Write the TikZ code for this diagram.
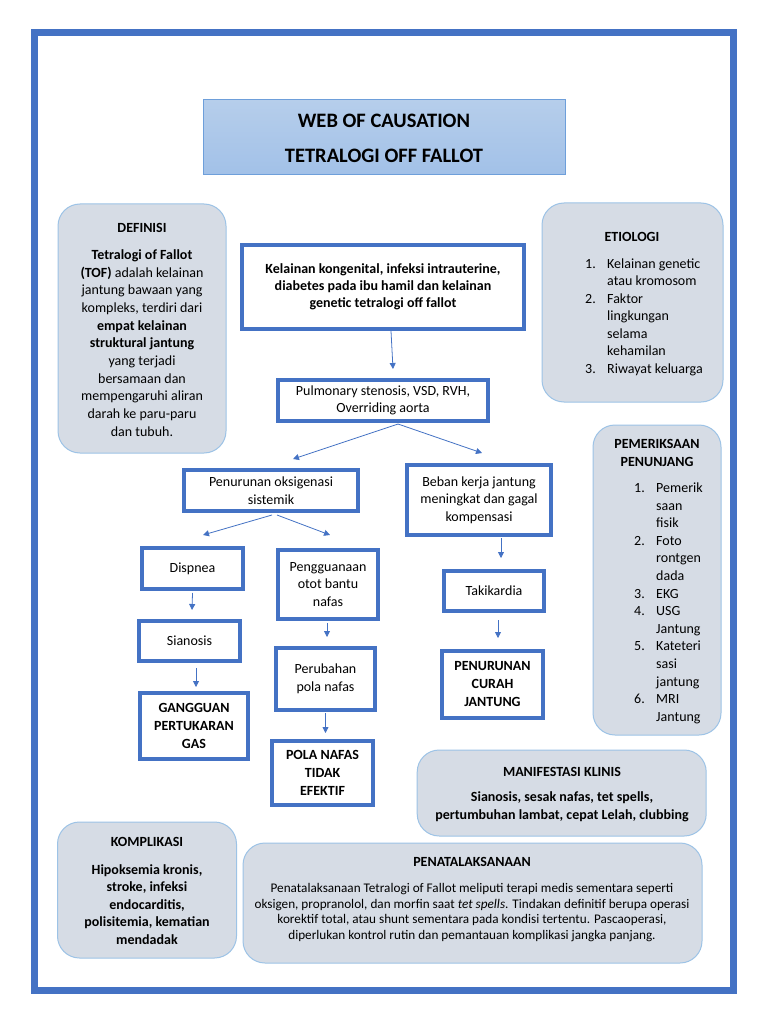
\documentclass[tikz,border=0pt]{standalone}
\usepackage{fontspec}
\setmainfont{Carlito}
\usetikzlibrary{arrows.meta}
\definecolor{wblue}{HTML}{4472C4}
\definecolor{lblue}{HTML}{9DC3E6}
\definecolor{softg}{HTML}{D6DCE5}
\definecolor{ttop}{HTML}{B6CEEB}
\definecolor{tbot}{HTML}{A2C1E8}
\definecolor{tedge}{HTML}{6E9FDA}
\newcommand\fsz[2]{\fontsize{#1}{#2}\selectfont}
\begin{document}
\begin{tikzpicture}[x=1pt,y=-1pt,
  flow/.style={draw=wblue, line width=4pt, fill=white, align=center, inner sep=0pt, font=\fsz{14}{17.5}},
  soft/.style={draw=lblue, line width=1pt, fill=softg, rounded corners=22pt, inner sep=0pt},
  arr/.style={draw=wblue, line width=0.8pt, -{Triangle[length=6pt,width=6pt]}},
  head/.style={font=\fsz{14}{18}\bfseries, align=center, inner sep=0pt},
  body/.style={font=\fsz{14}{17.6}, align=center, inner sep=0pt}]
\useasboundingbox (0,0) rectangle (768,1024);
\fill[white] (0,0) rectangle (768,1024);
\draw[wblue, line width=7pt] (34.5,32.5) rectangle (733,990.5);

% title
\node[draw=tedge, line width=1pt, top color=ttop, bottom color=tbot, minimum width=362, minimum height=75, inner sep=0pt] (title) at (384,137) {};
\node[font=\fsz{20.5}{35}\bfseries, align=center, inner sep=0pt] (titletext) at (384,138.5) {WEB OF CAUSATION\\TETRALOGI OFF FALLOT};

% soft boxes
\node[soft, minimum width=168, minimum height=249] (def) at (142,328.5) {};
\node[head] (defh) at (142,228) {DEFINISI};
\node[body, font=\fsz{14}{17.7}] (deft) at (142,343) {\textbf{Tetralogi of Fallot}\\\textbf{(TOF)} adalah kelainan\\jantung bawaan yang\\kompleks, terdiri dari\\\textbf{empat kelainan}\\\textbf{struktural jantung}\\yang terjadi\\bersamaan dan\\mempengaruhi aliran\\darah ke paru-paru\\dan tubuh.};

\node[soft, minimum width=181, minimum height=199] (eti) at (632.5,302.5) {};
\node[head] (etih) at (632,237) {ETIOLOGI};
\node[anchor=north west, inner sep=0pt, font=\fsz{14}{17.5}] (etil) at (585,256) {\begin{tabular}{@{}p{22pt}@{}l@{}}1.&Kelainan genetic\\&atau kromosom\\2.&Faktor\\&lingkungan\\&selama\\&kehamilan\\3.&Riwayat keluarga\end{tabular}};

\node[soft, minimum width=128, minimum height=310] (pem) at (657,580) {};
\node[head] (pemh) at (657,453) {PEMERIKSAAN\\PENUNJANG};
\node[anchor=north west, inner sep=0pt, font=\fsz{14}{17.6}] (peml) at (634,480) {\begin{tabular}{@{}p{22pt}@{}l@{}}1.&Pemerik\\&saan\\&fisik\\2.&Foto\\&rontgen\\&dada\\3.&EKG\\4.&USG\\&Jantung\\5.&Kateteri\\&sasi\\&jantung\\6.&MRI\\&Jantung\end{tabular}};

\node[soft, minimum width=289, minimum height=86] (man) at (561.7,793) {};
\node[head] (manh) at (562,772) {MANIFESTASI KLINIS};
\node[body, font=\fsz{14}{18}\bfseries] (mant) at (562,807) {Sianosis, sesak nafas, tet spells,\\pertumbuhan lambat, cepat Lelah, clubbing};

\node[soft, minimum width=179, minimum height=136] (kom) at (147,890) {};
\node[head] (komh) at (147,842) {KOMPLIKASI};
\node[body, font=\fsz{14}{17.5}\bfseries] (komt) at (147,904.5) {Hipoksemia kronis,\\stroke, infeksi\\endocarditis,\\polisitemia, kematian\\mendadak};

\node[soft, minimum width=459, minimum height=120] (pen) at (472.5,903) {};
\node[head] (penh) at (472,862) {PENATALAKSANAAN};
\node[body, font=\fsz{13.2}{15.8}] (pent) at (472,912.5) {Penatalaksanaan Tetralogi of Fallot meliputi terapi medis sementara seperti\\oksigen, propranolol, dan morfin saat \textit{tet spells}. Tindakan definitif berupa operasi\\korektif total, atau shunt sementara pada kondisi tertentu. Pascaoperasi,\\diperlukan kontrol rutin dan pemantauan komplikasi jangka panjang.};

% flow boxes
\node[flow, minimum width=282, minimum height=84, font=\fsz{14}{17}\bfseries] (box1) at (383,287) {Kelainan kongenital, infeksi intrauterine,\\diabetes pada ibu hamil dan kelainan\\genetic tetralogi off fallot};
\node[flow, minimum width=210, minimum height=41] (box2) at (383,400.5) {Pulmonary stenosis, VSD, RVH,\\Overriding aorta};
\node[flow, minimum width=174, minimum height=41] (penox) at (271,490.5) {Penurunan oksigenasi\\sistemik};
\node[flow, minimum width=144, minimum height=70] (beban) at (479,500) {Beban kerja jantung\\meningkat dan gagal\\kompensasi};
\node[flow, minimum width=101, minimum height=41] (disp) at (192.5,568.5) {Dispnea};
\node[flow, minimum width=101, minimum height=40] (sian) at (189.5,641) {Sianosis};
\node[flow, minimum width=108, minimum height=66, font=\fsz{14}{18}\bfseries] (gang) at (194,726) {GANGGUAN\\PERTUKARAN\\GAS};
\node[flow, minimum width=100, minimum height=69] (peng) at (328,584.5) {Pengguanaan\\otot bantu\\nafas};
\node[flow, minimum width=99, minimum height=62] (perub) at (325.5,679) {Perubahan\\pola nafas};
\node[flow, minimum width=101, minimum height=64, font=\fsz{14}{18}\bfseries] (pola) at (322.5,773) {POLA NAFAS\\TIDAK\\EFEKTIF};
\node[flow, minimum width=100, minimum height=40] (taki) at (494,591) {Takikardia};
\node[flow, minimum width=101, minimum height=67, font=\fsz{14}{18}\bfseries] (pcj) at (492.5,684.5) {PENURUNAN\\CURAH\\JANTUNG};

% connectors
\draw[arr] ([xshift=8pt]box1.south) -- ([xshift=10pt,yshift=9pt]box2.north);
\draw[arr] ([xshift=15pt,yshift=-1pt]box2.south) -- ([xshift=22pt,yshift=9pt]penox.north);
\draw[arr] ([xshift=15pt,yshift=-1pt]box2.south) -- ([xshift=3pt,yshift=10pt]beban.north);
\draw[arr] ([xshift=1pt,yshift=-2pt]penox.south) -- ([xshift=10.5pt,yshift=11pt]disp.north);
\draw[arr] ([xshift=6pt,yshift=-2pt]penox.south) -- ([xshift=2pt,yshift=13pt]peng.north);
\draw[arr] ([yshift=-2pt]disp.south) -- ([xshift=2.5pt,yshift=9pt]sian.north);
\draw[arr] ([xshift=6.5pt,yshift=-5pt]sian.south) -- ([xshift=2pt,yshift=4pt]gang.north);
\draw[arr] ([xshift=-1pt,yshift=-2pt]peng.south) -- ([xshift=1.5pt,yshift=9pt]perub.north);
\draw[arr] ([yshift=-1pt]perub.south) -- ([xshift=3pt,yshift=6pt]pola.north);
\draw[arr] ([xshift=22pt,yshift=-1pt]beban.south) -- ([xshift=7pt,yshift=11pt]taki.north);
\draw[arr] ([xshift=4pt,yshift=-7pt]taki.south) -- ([xshift=5.5pt,yshift=11pt]pcj.north);
\end{tikzpicture}
\end{document}
